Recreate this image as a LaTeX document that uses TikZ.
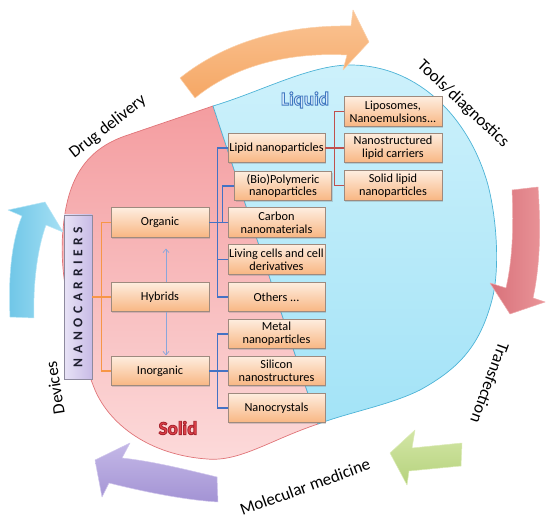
\documentclass[tikz,border=0pt]{standalone}
\usepackage{fontspec}
\usepackage{graphicx}
\setmainfont{Carlito}
\usetikzlibrary{shadows,arrows.meta,calc}

\definecolor{redTop}{HTML}{F49DA0}
\definecolor{redBot}{HTML}{FCDADA}
\definecolor{redEdge}{HTML}{E07478}
\definecolor{bluTop}{HTML}{CDF1FB}
\definecolor{bluBot}{HTML}{A3E3F7}
\definecolor{bluEdge}{HTML}{4DB3D6}
\definecolor{orA}{HTML}{FAC494}
\definecolor{orB}{HTML}{F5A765}
\definecolor{rdA}{HTML}{EA9599}
\definecolor{rdB}{HTML}{D8717A}
\definecolor{grA}{HTML}{D3E6A6}
\definecolor{grB}{HTML}{B5D27C}
\definecolor{puA}{HTML}{C4B8E7}
\definecolor{puB}{HTML}{A393D4}
\definecolor{cyA}{HTML}{A6E0F4}
\definecolor{cyB}{HTML}{6FC6E7}
\definecolor{nanoTop}{HTML}{E8E3F6}
\definecolor{nanoBot}{HTML}{C8BBE6}
\definecolor{nanoEdge}{HTML}{8E8A9E}
\definecolor{boxTop}{HTML}{FEEDDF}
\definecolor{boxBot}{HTML}{F8B682}
\definecolor{boxEdge}{HTML}{9E8A7E}
\definecolor{lineOr}{HTML}{F79646}
\definecolor{lineBl}{HTML}{4472C4}
\definecolor{lineRd}{HTML}{C0504D}
\definecolor{smallArr}{HTML}{8AA6DA}
\definecolor{liqFill}{HTML}{D6EAFB}
\definecolor{solFill}{HTML}{E2434B}

% #1 stroke colour as "r g b", #2 fill colour name, #3 text
\newcommand{\outlinedtext}[3]{{\color{#2}%
  \special{pdf:literal direct 2 Tr 0.9 w #1 RG}#3\special{pdf:literal direct 0 Tr}}}
\newcommand{\lsp}{\hspace{4.6pt}}

\tikzset{
  bx/.style={draw=boxEdge, line width=0.6pt, top color=boxTop, bottom color=boxBot,
    drop shadow={shadow xshift=1.3pt, shadow yshift=-1.3pt, opacity=0.3},
    align=center, font=\fontsize{12.3}{12.8}\selectfont, minimum width=97pt,
    minimum height=29.5pt, inner sep=0.5pt, text=black},
  bxw/.style={bx, minimum width=98pt},
  lab/.style={font=\fontsize{17}{20}\selectfont, text=black, inner sep=0pt},
  oline/.style={draw=lineOr, line width=1.3pt},
  bline/.style={draw=lineBl, line width=1.3pt},
  rline/.style={draw=lineRd, line width=1.3pt},
  sarrow/.style={draw=smallArr, line width=0.7pt, -{Straight Barb[length=3.5pt,width=6pt]}},
  blockarrow/.style={line width=0.5pt, line join=round},
}

\begin{document}
\begin{tikzpicture}[x=1pt, y=-1pt]
\useasboundingbox (0,0) rectangle (550,524);

% regions
\path[draw=redEdge, line width=0.7pt, top color=redTop, bottom color=redBot]
  (213,106) -- (318,424) .. controls (270,440) and (240,462) .. (207,459)
  .. controls (150,455) and (110,425) .. (95,390)
  .. controls (75,340) and (58,280) .. (63,230)
  .. controls (67,180) and (85,150) .. (125,136) -- cycle;
\path[draw=bluEdge, line width=0.7pt, top color=bluTop, bottom color=bluBot]
  (213,106) .. controls (260,92) and (310,65) .. (350,65)
  .. controls (420,65) and (470,120) .. (488,185)
  .. controls (497,220) and (500,270) .. (492,300)
  .. controls (480,345) and (460,368) .. (420,390)
  .. controls (390,405) and (350,412) .. (318,424) -- cycle;

% block arrows
\path[blockarrow, draw=orA!80!white, top color=orA, bottom color=orB]
  (180,78) .. controls (225,42) and (285,25) .. (351,26) -- (353,10) -- (369,42)
  -- (343,70) -- (347,55) .. controls (290,52) and (235,65) .. (195,98) -- cycle;
\path[blockarrow, draw=rdA!80!white, left color=rdB, right color=rdA]
  (512,190) -- (538,187) .. controls (541,230) and (540,265) .. (533,298)
  -- (545,302) -- (510,314) -- (490,283) -- (506,288)
  .. controls (512,262) and (514,230) .. (512,190) -- cycle;
\path[blockarrow, draw=grA!80!white, top color=grA, bottom color=grB]
  (462,443) -- (412,448) -- (415,430) -- (390,453) -- (407,485) -- (409,471)
  -- (461,466) -- cycle;
\path[blockarrow, draw=puA!80!white, top color=puA, bottom color=puB]
  (217,477) .. controls (180,468) and (150,461) .. (122,458) -- (130,443)
  -- (95,460) -- (102,497) -- (109,483)
  .. controls (145,492) and (185,500) .. (218,502) -- cycle;
\path[blockarrow, draw=cyA!80!white, left color=cyB, right color=cyA]
  (10,317) .. controls (8,275) and (12,240) .. (22,216) -- (8,210) -- (45,202)
  -- (63,232) -- (46,225) .. controls (37,250) and (33,285) .. (34,318) -- cycle;

% outer labels
\node[lab, rotate=38] (drug) at (108,127) {Drug delivery};
\node[lab, rotate=-43] (tools) at (463,104) {Tools/diagnostics};
\node[lab, rotate=-110] (transf) at (490,383) {Transfection};
\node[lab, rotate=20] (molmed) at (305,487) {Molecular medicine};
\node[lab, rotate=99] (devices) at (55,388) {Devices};

% region titles
\node[font=\fontsize{19}{20}\selectfont\bfseries, inner sep=0pt] (liquid) at (305,100)
  {\outlinedtext{0.247 0.471 0.753}{liqFill}{Liquid}};
\node[font=\fontsize{19}{20}\selectfont\bfseries, inner sep=0pt] (solid) at (178,428)
  {\outlinedtext{0.66 0.15 0.19}{solFill}{Solid}};

% nodes
\node[draw=nanoEdge, line width=0.6pt, left color=nanoTop, right color=nanoBot,
  minimum width=28pt, minimum height=164pt, inner sep=0pt,
  drop shadow={shadow xshift=1.3pt, shadow yshift=-1.3pt, opacity=0.3}] (nano) at (78,297)
  {\rotatebox{90}{\fontsize{13.5}{14}\selectfont\bfseries\color[HTML]{1F1F2F}%
  N\lsp A\lsp N\lsp O\lsp C\lsp A\lsp R\lsp R\lsp I\lsp E\lsp R\lsp S}};

\node[bxw] (org) at (160,222.5) {Organic};
\node[bxw] (hyb) at (160,297) {Hybrids};
\node[bxw] (inorg) at (160,371) {Inorganic};

\node[bx] (lip) at (276.5,148) {Lipid nanoparticles};
\node[bx] (bio) at (283,186) {(Bio)Polymeric\\nanoparticles};
\node[bx] (carb) at (276.5,222.5) {Carbon\\nanomaterials};
\node[bx] (liv) at (276.5,259.5) {Living cells and cell\\derivatives};
\node[bx] (oth) at (276.5,297) {Others ...};
\node[bx] (met) at (276.5,334) {Metal\\nanoparticles};
\node[bx] (sil) at (276.5,371) {Silicon\\nanostructures};
\node[bx] (ncr) at (276.5,408) {Nanocrystals};

\node[bxw] (lipo) at (393,111.5) {Liposomes,\\Nanoemulsions...};
\node[bxw] (nlc) at (393,148) {Nanostructured\\lipid carriers};
\node[bxw] (sln) at (393,185.5) {Solid lipid\\nanoparticles};

% connectors between nodes
\draw[oline] (nano.east) -- (hyb.west);
\draw[oline] (org.west) -- ++(-9,0) |- (inorg.west);
\draw[bline] (org.east) -- (carb.west);
\draw[bline] (lip.west) -- ++(-10,0) |- (oth.west);
\draw[bline] (liv.west) -- ++(-10,0);
\draw[bline] (bio.west) -- ++(-12,0) |- (carb.west);
\draw[bline] (inorg.east) -- (sil.west);
\draw[bline] (met.west) -- ++(-10,0) |- (ncr.west);
\draw[rline] (lip.east) -- (nlc.west);
\draw[rline] (lipo.west) -- ++(-9,0) |- (sln.west);

\draw[sarrow, shorten >=11pt] ($(hyb.north)+(6,0)$) -- ($(org.south)+(6,0)$);
\draw[sarrow, shorten >=0.5pt] ($(hyb.south)+(6,0)$) -- ($(inorg.north)+(6,0)$);
\end{tikzpicture}
\end{document}
